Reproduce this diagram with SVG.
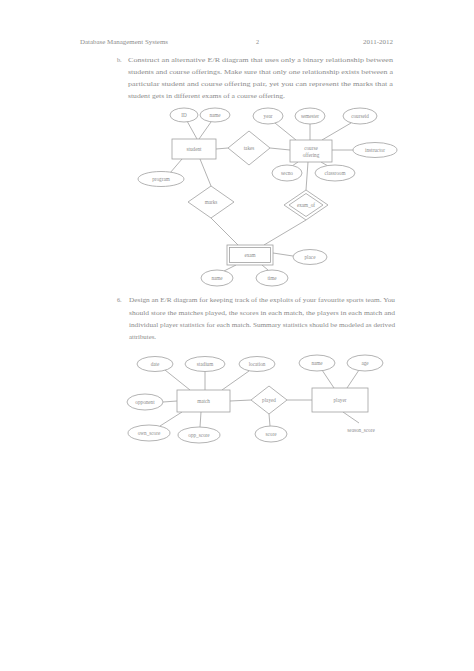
<svg xmlns="http://www.w3.org/2000/svg" width="474" height="671" viewBox="0 0 474 671">
<style>
.bg{fill:#ffffff}
.t{font-family:"Liberation Serif","Times New Roman",serif;font-size:6.2px;fill:#8c8c8c}
.l{font-family:"Liberation Serif","Times New Roman",serif;font-size:5.2px;fill:#8c8c8c;text-anchor:middle;dominant-baseline:central}
.s{fill:#ffffff;stroke:#a0a0a0;stroke-width:0.8}
.c{fill:none;stroke:#a0a0a0;stroke-width:0.8}
</style>
<rect class="bg" x="0" y="0" width="474" height="671"/>
<g id="header">
<text class="t" x="80" y="44" textLength="88" lengthAdjust="spacingAndGlyphs">Database Management Systems</text>
<text class="t" x="256" y="44">2</text>
<text class="t" x="363" y="44" textLength="30" lengthAdjust="spacingAndGlyphs">2011-2012</text>
</g>
<g id="question-b">
<text class="t" x="117" y="62">b.</text>
<text class="t" x="128" y="62" textLength="265" lengthAdjust="spacingAndGlyphs">Construct an alternative E/R diagram that uses only a binary relationship between</text>
<text class="t" x="128" y="74" textLength="265" lengthAdjust="spacingAndGlyphs">students and course offerings. Make sure that only one relationship exists between a</text>
<text class="t" x="128" y="86" textLength="265" lengthAdjust="spacingAndGlyphs">particular student and course offering pair, yet you can represent the marks that a</text>
<text class="t" x="128" y="98" textLength="157" lengthAdjust="spacingAndGlyphs">student gets in different exams of a course offering.</text>
</g>
<g id="connectors">
<line class="c" x1="187" y1="121" x2="197" y2="139"/>
<line class="c" x1="211" y1="122" x2="199" y2="139"/>
<line class="c" x1="170" y1="173" x2="182" y2="159"/>
<line class="c" x1="216" y1="149" x2="228" y2="148"/>
<line class="c" x1="270" y1="148" x2="290" y2="150"/>
<line class="c" x1="275" y1="123" x2="296" y2="140"/>
<line class="c" x1="310" y1="124" x2="310" y2="140"/>
<line class="c" x1="351" y1="123" x2="322" y2="140"/>
<line class="c" x1="353" y1="150" x2="332" y2="150"/>
<line class="c" x1="292" y1="166" x2="298" y2="162"/>
<line class="c" x1="328" y1="166" x2="321" y2="162"/>
<line class="c" x1="200" y1="159" x2="211" y2="186"/>
<line class="c" x1="308" y1="162" x2="306" y2="190"/>
<line class="c" x1="211" y1="218" x2="238" y2="245"/>
<line class="c" x1="306" y1="220" x2="264" y2="245"/>
<line class="c" x1="273" y1="253" x2="293" y2="256"/>
<line class="c" x1="236" y1="265" x2="224" y2="271"/>
<line class="c" x1="262" y1="265" x2="268" y2="270"/>
<line class="c" x1="165" y1="370" x2="190" y2="390"/>
<line class="c" x1="205" y1="371" x2="205" y2="390"/>
<line class="c" x1="249" y1="371" x2="222" y2="390"/>
<line class="c" x1="163" y1="402" x2="177" y2="401"/>
<line class="c" x1="160" y1="426" x2="182" y2="412"/>
<line class="c" x1="200" y1="427" x2="201" y2="412"/>
<line class="c" x1="230" y1="401" x2="251" y2="400"/>
<line class="c" x1="287" y1="400" x2="312" y2="400"/>
<line class="c" x1="269" y1="414" x2="270" y2="426"/>
<line class="c" x1="322" y1="370" x2="334" y2="388"/>
<line class="c" x1="359" y1="370" x2="347" y2="388"/>
<line class="c" x1="343" y1="412" x2="359" y2="423"/>
</g>
<g id="attr-sid"><ellipse class="s" cx="184" cy="115" rx="14" ry="7"/><text class="l" x="184" y="115">ID</text></g>
<g id="attr-sname"><ellipse class="s" cx="215" cy="115" rx="15" ry="7"/><text class="l" x="215" y="115">name</text></g>
<g id="attr-program"><ellipse class="s" cx="161" cy="179" rx="23" ry="7.5"/><text class="l" x="161" y="179">program</text></g>
<g id="student"><rect class="s" x="172" y="139" width="44" height="20"/><text class="l" x="194" y="149">student</text></g>
<g id="takes"><polygon class="s" points="249,131 270,148 249,165 228,148"/><text class="l" x="249" y="148">takes</text></g>
<g id="attr-year"><ellipse class="s" cx="268" cy="116" rx="15" ry="8"/><text class="l" x="268" y="116">year</text></g>
<g id="attr-semester"><ellipse class="s" cx="310" cy="116" rx="15" ry="8"/><text class="l" x="310" y="116">semester</text></g>
<g id="attr-courseid"><ellipse class="s" cx="360" cy="116" rx="17" ry="8"/><text class="l" x="360" y="116">courseid</text></g>
<g id="attr-instructor"><ellipse class="s" cx="375" cy="150" rx="22" ry="7.5"/><text class="l" x="375" y="150">instructor</text></g>
<g id="attr-secno"><ellipse class="s" cx="287" cy="173" rx="15" ry="8"/><text class="l" x="287" y="173">secno</text></g>
<g id="attr-room"><ellipse class="s" cx="335" cy="173" rx="20" ry="8"/><text class="l" x="335" y="173">classroom</text></g>
<g id="course-offering"><rect class="s" x="290" y="140" width="42" height="22"/><text class="l" x="311" y="147.5">course</text><text class="l" x="311" y="154.5">offering</text></g>
<g id="gets"><polygon class="s" points="211,186 234,202 211,218 188,202"/><text class="l" x="211" y="202">marks</text></g>
<g id="exam-of"><polygon class="s" points="306,190 328,205 306,220 284,205"/><polygon class="c" points="306,193.5 323,205 306,216.5 289,205"/><text class="l" x="306" y="205">exam_of</text></g>
<g id="exam"><rect class="s" x="227" y="245" width="46" height="20"/><rect class="c" x="229.5" y="247.5" width="41" height="15"/><text class="l" x="250" y="255">exam</text></g>
<g id="attr-place"><ellipse class="s" cx="310" cy="257" rx="17" ry="7.5"/><text class="l" x="310" y="257">place</text></g>
<g id="attr-ename"><ellipse class="s" cx="217" cy="278" rx="16" ry="8"/><text class="l" x="217" y="278">name</text></g>
<g id="attr-time"><ellipse class="s" cx="272" cy="278" rx="16" ry="8"/><text class="l" x="272" y="278">time</text></g>
<g id="question-6">
<text class="t" x="117" y="302">6.</text>
<text class="t" x="129" y="302" textLength="266" lengthAdjust="spacingAndGlyphs">Design an E/R diagram for keeping track of the exploits of your favourite sports team. You</text>
<text class="t" x="129" y="315" textLength="266" lengthAdjust="spacingAndGlyphs">should store the matches played, the scores in each match, the players in each match and</text>
<text class="t" x="129" y="327" textLength="266" lengthAdjust="spacingAndGlyphs">individual player statistics for each match. Summary statistics should be modeled as derived</text>
<text class="t" x="129" y="339" textLength="27" lengthAdjust="spacingAndGlyphs">attributes.</text>
</g>
<g id="attr-date"><ellipse class="s" cx="155" cy="364" rx="18" ry="7.5"/><text class="l" x="155" y="364">date</text></g>
<g id="attr-stadium"><ellipse class="s" cx="205" cy="364" rx="20" ry="7.5"/><text class="l" x="205" y="364">stadium</text></g>
<g id="attr-location"><ellipse class="s" cx="257" cy="364" rx="18" ry="7.5"/><text class="l" x="257" y="364">location</text></g>
<g id="attr-opponent"><ellipse class="s" cx="145" cy="402" rx="18" ry="8"/><text class="l" x="145" y="402">opponent</text></g>
<g id="attr-own-score"><ellipse class="s" cx="149" cy="433" rx="21" ry="8"/><text class="l" x="149" y="433">own_score</text></g>
<g id="attr-opp-score"><ellipse class="s" cx="199" cy="435" rx="21" ry="8"/><text class="l" x="199" y="435">opp_score</text></g>
<g id="match"><rect class="s" x="177" y="390" width="53" height="22"/><text class="l" x="203.5" y="401">match</text></g>
<g id="played"><polygon class="s" points="269,386 287,400 269,414 251,400"/><text class="l" x="269" y="400">played</text></g>
<g id="attr-score"><ellipse class="s" cx="271" cy="434" rx="16" ry="8"/><text class="l" x="271" y="434">score</text></g>
<g id="player"><rect class="s" x="312" y="388" width="56" height="24"/><text class="l" x="340" y="400">player</text></g>
<g id="attr-pname"><ellipse class="s" cx="317" cy="363" rx="18" ry="8"/><text class="l" x="317" y="363">name</text></g>
<g id="attr-age"><ellipse class="s" cx="365" cy="363" rx="18" ry="8"/><text class="l" x="365" y="363">age</text></g>
<g id="attr-season-score"><text class="l" x="361" y="430">season_score</text></g>
</svg>
